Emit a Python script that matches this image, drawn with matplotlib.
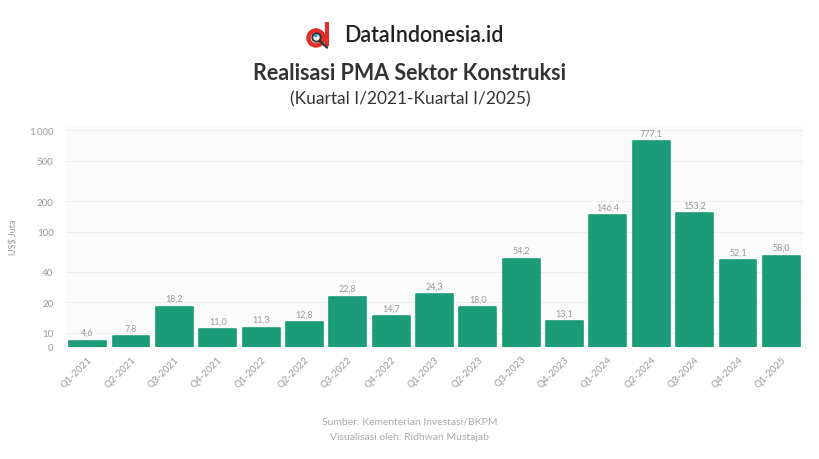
import matplotlib
matplotlib.use("Agg")
import matplotlib.pyplot as plt
from matplotlib.ticker import FixedLocator, FuncFormatter
from matplotlib.patches import Circle, Rectangle, Wedge

categories = ["Q1-2021", "Q2-2021", "Q3-2021", "Q4-2021",
              "Q1-2022", "Q2-2022", "Q3-2022", "Q4-2022",
              "Q1-2023", "Q2-2023", "Q3-2023", "Q4-2023",
              "Q1-2024", "Q2-2024", "Q3-2024", "Q4-2024",
              "Q1-2025"]
values = [4.6, 7.8, 18.2, 11.0, 11.3, 12.8, 22.8, 14.7, 24.3, 18.0,
          54.2, 13.1, 146.4, 777.1, 153.2, 52.1, 58.0]
yticks = [0, 10, 20, 40, 100, 200, 500, 1000]

plt.rcParams['font.family'] = ['Lato', 'DejaVu Sans']

fig = plt.figure(figsize=(8.2, 4.6), dpi=100)
fig.patch.set_facecolor('white')

ax = fig.add_axes([66/820, 1 - 348/460, 737/820, 221/460])
ax.set_facecolor('#fbfbfb')
x = list(range(len(categories)))
bars = ax.bar(x, values, width=0.85, color='#1b9c77', zorder=3,
              edgecolor='#1b9c77', linewidth=1.2, joinstyle='round')

ax.set_yscale('symlog', linthresh=10, linscale=0.125)
ax.set_ylim(0, 1100)
ax.set_xlim(-0.5, len(categories) - 0.5)
ax.yaxis.set_major_locator(FixedLocator(yticks))
ax.yaxis.set_minor_locator(FixedLocator([]))
ax.yaxis.set_major_formatter(FuncFormatter(lambda v, p: f"{int(v):,}".replace(",", ".")))
ax.grid(axis='y', color='#ececec', linewidth=0.6, zorder=0)
for s in ax.spines.values():
    s.set_visible(False)
ax.tick_params(axis='y', length=0, labelsize=7, colors='#999999', pad=9)
ax.tick_params(axis='x', length=0, labelsize=7, colors='#999999', pad=5)
ax.set_xticks(x)
ax.set_xticklabels(categories, rotation=45, ha='right', rotation_mode='anchor')
ax.set_ylabel('US$ Juta', fontsize=6.5, color='#999999', labelpad=8)

for xi, v in zip(x, values):
    ax.annotate(f"{v:.1f}".replace(".", ","), (xi, v), xytext=(0, 2.5),
                textcoords='offset points', ha='center', va='bottom',
                fontsize=6.5, color='#999999', zorder=4)

# logo in pixel coordinates
lax = fig.add_axes([300/820, 1 - 54/460, 36/820, 40/460])
lax.set_xlim(300, 336)
lax.set_ylim(54, 14)
lax.axis('off')
lax.add_patch(Circle((316, 39), 7.5, facecolor='white', edgecolor='#e52d27', linewidth=3.2))
lax.add_patch(Rectangle((324.5, 23), 4.5, 24, facecolor='#e52d27', edgecolor='none'))
lax.add_patch(Circle((316.5, 38.5), 4.2, facecolor='#f1f4f8', edgecolor='#333333', linewidth=1.4, zorder=3))
lax.add_patch(Wedge((316.5, 38.5), 3.2, 200, 300, facecolor='#2e9bd6', edgecolor='none', zorder=4))
lax.plot([319.5, 327], [41.5, 48.5], color='#333333', linewidth=1.8, solid_capstyle='round', zorder=4)

fig.text(344/820, 1 - 35/460, 'DataIndonesia.id', fontsize=15.5, color='#222222',
         fontweight='semibold', ha='left', va='center')
fig.text(410/820, 1 - 74/460, 'Realisasi PMA Sektor Konstruksi', fontsize=15.5,
         fontweight='bold', color='#333333', ha='center', va='center')
fig.text(410/820, 1 - 99/460, '(Kuartal I/2021-Kuartal I/2025)', fontsize=12.5,
         color='#333333', ha='center', va='center')
fig.text(410/820, 1 - 422/460, 'Sumber: Kementerian Investasi/BKPM', fontsize=7.5,
         color='#aaaaaa', ha='center', va='center')
fig.text(410/820, 1 - 438/460, 'Visualisasi oleh: Ridhwan Mustajab', fontsize=7.5,
         color='#aaaaaa', ha='center', va='center')

fig.savefig('out.png', dpi=100, facecolor='white')
